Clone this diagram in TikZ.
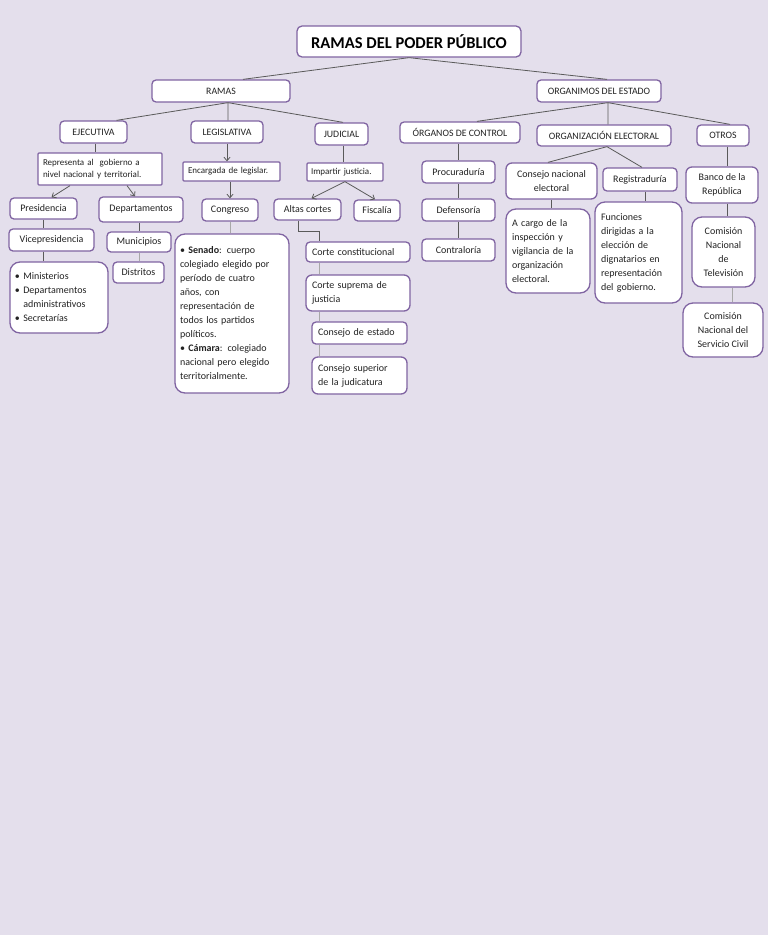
\documentclass[tikz,border=0pt]{standalone}
\usepackage{fontspec}
\setmainfont{Carlito}
\usetikzlibrary{arrows.meta}
\definecolor{paper}{HTML}{E4DFEC}
\definecolor{rim}{HTML}{8064A2}
\definecolor{inkdark}{HTML}{5A5A5A}
\definecolor{inklight}{HTML}{A8A8A8}
\definecolor{words}{HTML}{222222}

\begin{document}
\begin{tikzpicture}[x=1pt,y=-1pt,
    sz/.style 2 args={minimum width=#1,minimum height=#2},
    box/.style={draw=rim,fill=white,text=words,line width=1.3pt,rounded corners=4pt,inner sep=0pt,align=center,font=\fontsize{10}{14}\selectfont},
    capsbox/.style={box,font=\fontsize{9.8}{12}\selectfont},
    smallbox/.style={box,rounded corners=1pt,align=left,font=\fontsize{9}{12.5}\selectfont},
    softbox/.style={box,rounded corners=6pt},
    notebox/.style={box,rounded corners=10pt},
    link/.style={inkdark,line width=0.8pt},
    faint/.style={inklight,line width=0.8pt},
    arr/.style={link,-{Straight Barb[length=3.5pt,width=6pt]}}]
    \fill[paper] (0,0) rectangle (768,935);
    \useasboundingbox (0,0) rectangle (768,935);

    % top levels
    \node at (409,41.5) [box,text=black,rounded corners=5pt,sz={224}{31},font=\bfseries\fontsize{16.5}{20}\selectfont] (top) {RAMAS DEL PODER PÚBLICO};
    \node at (221,91) [capsbox,sz={138}{22}] (ramas) {RAMAS};
    \node at (599,91) [capsbox,sz={124}{22}] (estado) {ORGANIMOS DEL ESTADO};
    \node at (93.5,132) [capsbox,sz={67}{22}] (ejec) {EJECUTIVA};
    \node at (227,132) [capsbox,sz={72}{22}] (legis) {LEGISLATIVA};
    \node at (341.5,134) [capsbox,sz={53}{22}] (judic) {JUDICIAL};
    \node at (460,132.5) [capsbox,sz={120}{21}] (control) {ÓRGANOS DE CONTROL};
    \node at (604,135.5) [capsbox,sz={134}{21}] (elect) {ORGANIZACIÓN ELECTORAL};
    \node at (723,135.5) [capsbox,sz={52}{21}] (otros) {OTROS};

    % ejecutiva
    \node at (100,169) [smallbox,sz={124}{32},text width=114] (repr) {Representa al\ \ gobierno a\\nivel nacional y territorial.};
    \node at (43.5,208.5) [box,sz={67}{21}] (pres) {Presidencia};
    \node at (141,209.5) [box,sz={84}{25}] (dept) {Departamentos};
    \node at (51.5,240) [box,sz={85}{22}] (vice) {Vicepresidencia};
    \node at (139,242) [box,sz={64}{20}] (muni) {Municipios};
    \node at (138.5,272.5) [box,sz={51}{21}] (dist) {Distritos};
    \node at (59,297.5) [notebox,sz={98}{71},text width=88,align=left] (minis) {• Ministerios\\• Departamentos\\\hphantom{• }administrativos\\• Secretarías};

    % legislativa
    \node at (231.5,171.5) [smallbox,sz={97}{19},text width=87] (encarg) {Encargada de legislar.};
    \node at (230,210) [box,sz={56}{22}] (congreso) {Congreso};
    \node at (232,313.5) [notebox,sz={114}{159},text width=104,align=left] (senado) {• \textbf{Senado}: cuerpo\\colegiado elegido por\\período de cuatro\\años, con\\representación de\\todos los partidos\\políticos.\\• \textbf{Cámara}: colegiado\\nacional pero elegido\\territorialmente.};

    % judicial
    \node at (345,172) [smallbox,sz={76}{18},text width=68] (impart) {Impartir justicia.};
    \node at (307.5,209.5) [box,sz={67}{21}] (altas) {Altas cortes};
    \node at (377,210.5) [box,sz={46}{21}] (fisc) {Fiscalía};
    \node at (358,252) [box,sz={104}{20},text width=92,align=left] (cconst) {Corte constitucional};
    \node at (358,293) [softbox,sz={104}{36},text width=92,align=left] (csupr) {Corte suprema de\\justicia};
    \node at (359.5,333) [box,sz={95}{22},text width=83,align=left] (cestado) {Consejo de estado};
    \node at (359.5,375.5) [softbox,sz={95}{37},text width=83,align=left] (csuper) {Consejo superior\\de la judicatura};

    % organos de control
    \node at (458.5,172) [box,sz={73}{22}] (procu) {Procuraduría};
    \node at (458.5,210) [box,sz={73}{22}] (defen) {Defensoría};
    \node at (458.5,250) [box,sz={73}{22}] (contra) {Contraloría};

    % organizacion electoral
    \node at (551.5,181) [softbox,sz={91}{36}] (cne) {Consejo nacional\\electoral};
    \node at (548,251) [notebox,sz={84}{84},text width=72,align=left] (cargo) {A cargo de la\\inspección y\\vigilancia de la\\organización\\electoral.};
    \node at (640,179.5) [box,sz={74}{23}] (regis) {Registraduría};
    \node at (638.5,252.5) [notebox,sz={87}{101},text width=75,align=left] (funci) {Funciones\\dirigidas a la\\elección de\\dignatarios en\\representación\\del gobierno.};

    % otros
    \node at (722,185) [softbox,sz={72}{36}] (banco) {Banco de la\\República};
    \node at (723.5,252) [notebox,sz={63}{70}] (cntv) {Comisión\\Nacional\\de\\Televisión};
    \node at (723,330) [notebox,sz={80}{54}] (cnsc) {Comisión\\Nacional del\\Servicio Civil};

    % connectors
    \draw[link] (top.south) -- ([xshift=22]ramas.north) (top.south) -- ([xshift=8]estado.north);
    \draw[link] ([xshift=7]ramas.south) -- ([xshift=23]ejec.north)
        ([xshift=7]ramas.south) -- ([xshift=1]legis.north)
        ([xshift=7]ramas.south) -- ([xshift=1.5]judic.north);
    \draw[link] ([xshift=9]estado.south) -- ([xshift=17]control.north)
        ([xshift=9]estado.south) -- ([xshift=4]elect.north)
        ([xshift=9]estado.south) -- ([xshift=7]otros.north);

    \draw[link] ([xshift=1.5]ejec.south) -- ([xshift=1.5]ejec.south |- repr.north);
    \draw[arr] ([xshift=-30]repr.south) -- ([xshift=8]pres.north);
    \draw[arr] ([xshift=27]repr.south) -- ([xshift=-6]dept.north);
    \draw[link] (pres.south) -- (pres.south |- vice.north) (vice.south -| pres.south) -- (minis.north -| pres.south);
    \draw[link] (muni.north |- dept.south) -- (muni.north);
    \draw[faint] (muni.south) -- (muni.south |- dist.north);

    \draw[arr] (legis.south) -- (legis.south |- encarg.north);
    \draw[arr] (congreso.north |- encarg.south) -- (congreso.north);
    \draw[faint] (congreso.south) -- (congreso.south |- senado.north);

    \draw[link] ([xshift=1.5]judic.south) -- ([xshift=1.5]judic.south |- impart.north);
    \draw[arr] (impart.south) -- ([xshift=4]altas.north);
    \draw[arr] (impart.south) -- ([xshift=-2]fisc.north);
    \draw[link] ([xshift=-9.5]altas.south) -- ++(0,11) -| ([xshift=-39]cconst.north);
    \draw[faint] ([xshift=-39]cconst.south) -- ([xshift=-39]csupr.north)
        ([xshift=-39]csupr.south) -- ([xshift=-40.5]cestado.north)
        ([xshift=-40.5]cestado.south) -- ([xshift=-40.5]csuper.north);

    \draw[link] (procu.north |- control.south) -- (procu.north) (procu.south) -- (defen.north) (defen.south) -- (contra.north);

    \draw[link] ([xshift=3]elect.south) -- ([xshift=-3.5]cne.north) ([xshift=3]elect.south) -- ([xshift=2]regis.north);
    \draw[link] (cne.south) -- (cne.south |- cargo.north);
    \draw[link] ([xshift=5]regis.south) -- ([xshift=5]regis.south |- funci.north);

    \draw[link] ([xshift=4]otros.south) -- ([xshift=4]otros.south |- banco.north);
    \draw[link] ([xshift=5]banco.south) -- ([xshift=5]banco.south |- cntv.north);
    \draw[faint] ([xshift=8.5]cntv.south) -- ([xshift=8.5]cntv.south |- cnsc.north);
\end{tikzpicture}
\end{document}
